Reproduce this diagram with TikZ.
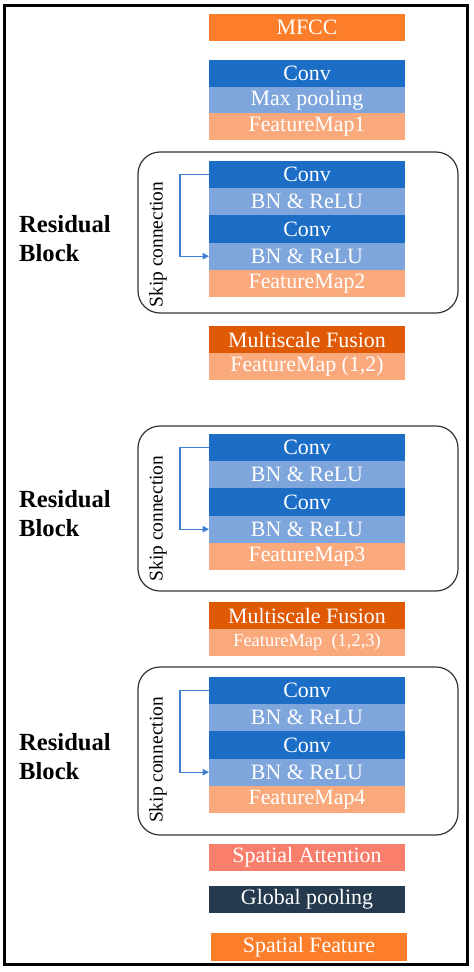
\documentclass[tikz,border=0pt]{standalone}
\usepackage{fontspec}
\setmainfont{Liberation Serif}
\usetikzlibrary{arrows.meta}
\definecolor{mfcccol}{HTML}{FD7E2A}
\definecolor{convcol}{HTML}{1C6DC6}
\definecolor{bncol}{HTML}{7FA6DC}
\definecolor{fmcol}{HTML}{FAA97C}
\definecolor{msfcol}{HTML}{E05A05}
\definecolor{sacol}{HTML}{F97E6C}
\definecolor{gpcol}{HTML}{263A4F}
\definecolor{skipcol}{HTML}{3F80D2}
\definecolor{framecol}{HTML}{333333}
\begin{document}
\begin{tikzpicture}[x=1bp,y=-1bp,
  layer/.style={fill=#1, draw=none, minimum width=196bp, minimum height=27.2bp,
    inner sep=0pt, outer sep=0pt, text=white, font=\fontsize{22}{24}\selectfont},
  blockframe/.style={draw=framecol, line width=1.2bp, rounded corners=22bp,
    minimum width=320bp, inner sep=0pt},
  reslabel/.style={anchor=north west, inner sep=0pt, align=left,
    font=\fontsize{24.7}{29.5}\selectfont\bfseries},
  skiplabel/.style={rotate=90, inner sep=0pt, font=\fontsize{19.5}{22}\selectfont},
  skiparrow/.style={draw=skipcol, line width=1.3bp, -{Triangle[length=6.5bp,width=6.5bp]}}
]
\useasboundingbox (0,0) rectangle (474,972);
\draw[line width=2.5bp] (4.5,5.5) rectangle (467.5,964.5);

% top
\node[layer=mfcccol, minimum height=27bp] (mfcc) at (307,27.5) {MFCC};
\node[layer=convcol, minimum height=26.7bp] (conv0) at (307,73.5) {Conv};
\node[layer=bncol, minimum height=26.7bp] (mp) at (307,100.2) {Max pooling};
\node[layer=fmcol, minimum height=26.7bp] (fm1) at (307,126.8) {FeatureMap1};

% block 1
\node[blockframe, minimum height=161bp] (frame1) at (298,232.5) {};
\node[layer=convcol] (c11) at (307,174.6) {Conv};
\node[layer=bncol] (b11) at (307,201.8) {BN \& ReLU};
\node[layer=convcol] (c12) at (307,229) {Conv};
\node[layer=bncol] (b12) at (307,256.2) {BN \& ReLU};
\node[layer=fmcol] (fm2) at (307,283.4) {FeatureMap2};
\draw[skiparrow] (c11.west) -- ++(-29,0) |- (b12.west);
\node[skiplabel] (sk1) at (158,244.5) {Skip connection};
\node[reslabel] (rb1) at (19,215) {Residual\\Block};

% fusion 1
\node[layer=msfcol, minimum height=27bp] (msf1) at (307,339.5) {Multiscale Fusion};
\node[layer=fmcol, minimum height=27bp] (fm12) at (307,366.5) {FeatureMap (1,2)};

% block 2
\node[blockframe, minimum height=165bp] (frame2) at (298,508.5) {};
\node[layer=convcol] (c21) at (307,447.6) {Conv};
\node[layer=bncol] (b21) at (307,474.8) {BN \& ReLU};
\node[layer=convcol] (c22) at (307,502) {Conv};
\node[layer=bncol] (b22) at (307,529.2) {BN \& ReLU};
\node[layer=fmcol] (fm3) at (307,556.4) {FeatureMap3};
\draw[skiparrow] (c21.west) -- ++(-29,0) |- (b22.west);
\node[skiplabel] (sk2) at (158,518.5) {Skip connection};
\node[reslabel] (rb2) at (19,490) {Residual\\Block};

% fusion 2
\node[layer=msfcol, minimum height=27bp] (msf2) at (307,615.5) {Multiscale Fusion};
\node[layer=fmcol, minimum height=27bp, font=\fontsize{18.5}{22}\selectfont] (fm123) at (307,642.5) {FeatureMap\ \ (1,2,3)};

% block 3
\node[blockframe, minimum height=168bp] (frame3) at (298,751) {};
\node[layer=convcol] (c31) at (307,690.6) {Conv};
\node[layer=bncol] (b31) at (307,717.8) {BN \& ReLU};
\node[layer=convcol] (c32) at (307,745) {Conv};
\node[layer=bncol] (b32) at (307,772.2) {BN \& ReLU};
\node[layer=fmcol] (fm4) at (307,799.4) {FeatureMap4};
\draw[skiparrow] (c31.west) -- ++(-29,0) |- (b32.west);
\node[skiplabel] (sk3) at (158,760) {Skip connection};
\node[reslabel] (rb3) at (19,733) {Residual\\Block};

% bottom
\node[layer=sacol, minimum height=27bp] (sa) at (307,857.5) {Spatial Attention};
\node[layer=gpcol, minimum height=27bp] (gp) at (307,899.5) {Global pooling};
\node[layer=mfcccol, minimum height=28bp] (sf) at (309,947) {Spatial Feature};
\end{tikzpicture}
\end{document}
